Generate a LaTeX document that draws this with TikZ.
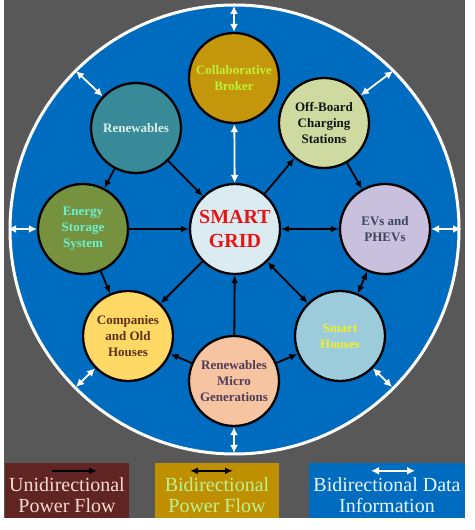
\documentclass[tikz,border=0pt]{standalone}
\usepackage{fontspec}
\setmainfont{Liberation Serif}
\usetikzlibrary{arrows.meta}
\definecolor{bggray}{RGB}{88,88,88}
\definecolor{gridblue}{RGB}{0,108,192}
\definecolor{brokerfill}{RGB}{196,150,12}
\definecolor{brokertext}{RGB}{190,240,60}
\definecolor{renewfill}{RGB}{56,138,152}
\definecolor{renewtext}{RGB}{220,240,235}
\definecolor{offfill}{RGB}{206,218,160}
\definecolor{offtext}{RGB}{20,20,20}
\definecolor{storefill}{RGB}{118,146,62}
\definecolor{storetext}{RGB}{110,240,210}
\definecolor{centrefill}{RGB}{218,236,242}
\definecolor{centretext}{RGB}{230,20,20}
\definecolor{evfill}{RGB}{200,192,220}
\definecolor{evtext}{RGB}{60,70,90}
\definecolor{compfill}{RGB}{255,216,102}
\definecolor{comptext}{RGB}{90,50,20}
\definecolor{microfill}{RGB}{246,196,160}
\definecolor{microtext}{RGB}{80,60,90}
\definecolor{housefill}{RGB}{156,204,220}
\definecolor{housetext}{RGB}{240,240,40}
\definecolor{legred}{RGB}{96,36,34}
\definecolor{legredtext}{RGB}{246,220,200}
\definecolor{leggold}{RGB}{190,144,0}
\definecolor{leggoldtext}{RGB}{190,240,150}
\definecolor{legbluetext}{RGB}{235,245,255}
\tikzset{
  hub/.style={circle,draw=black,line width=2.3pt,minimum size=90pt,inner sep=0pt,
    align=center,font=\bfseries\fontsize{13}{16}\selectfont},
  power/.style={draw=black,line width=1.8pt,-{Latex[length=8pt,width=7pt]}},
  bipower/.style={draw=black,line width=1.8pt,{Latex[length=8pt,width=7pt]}-{Latex[length=8pt,width=7pt]}},
  data/.style={draw=white,line width=1.8pt,{Latex[length=8pt,width=8pt]}-{Latex[length=8pt,width=8pt]}},
  legbox/.style={rectangle,minimum height=55pt,inner sep=0pt},
  legtext/.style={align=center,font=\fontsize{20}{21}\selectfont,inner sep=0pt}
}
\begin{document}
\begin{tikzpicture}[x=1pt,y=1pt]
  \useasboundingbox (0,0) rectangle (474,530);
  \fill[bggray] (4,12) rectangle (465,530);
  \draw[white,line width=3pt,fill=gridblue] (234.5,300.5) circle (224.5pt);
  % nodes
  \node[hub,fill=brokerfill,text=brokertext] (broker) at (234,452) {Collaborative\\Broker};
  \node[hub,fill=renewfill,text=renewtext] (renew) at (136,402) {Renewables};
  \node[hub,fill=offfill,text=offtext] (offboard) at (324,407) {Off-Board\\Charging\\Stations};
  \node[hub,fill=storefill,text=storetext] (storage) at (83,301) {Energy\\Storage\\System};
  \node[hub,fill=centrefill,text=centretext,font=\bfseries\fontsize{20}{24}\selectfont] (grid) at (235,301) {SMART\\GRID};
  \node[hub,fill=evfill,text=evtext] (evs) at (385,301) {EVs and\\PHEVs};
  \node[hub,fill=compfill,text=comptext] (companies) at (128,194) {Companies\\and Old\\Houses};
  \node[hub,fill=microfill,text=microtext] (micro) at (234,149) {Renewables\\Micro\\Generations};
  \node[hub,fill=housefill,text=housetext] (houses) at (340,194) {Smart\\Houses};
  % ends of the data arrows on the rim
  \coordinate (dBroker) at (234,524);
  \coordinate (dRenew) at (76,459);
  \coordinate (dOffboard) at (393,459);
  \coordinate (dStorage) at (8,301);
  \coordinate (dEvs) at (461,301);
  \coordinate (dCompanies) at (76,143);
  \coordinate (dHouses) at (392,143);
  \coordinate (dMicro) at (234,77);
  % power flow
  \draw[power] (renew)--(storage);
  \draw[power] (renew)--(grid);
  \draw[power] (grid)--(offboard);
  \draw[power] (offboard)--(evs);
  \draw[power] (storage)--(grid);
  \draw[power] (storage)--(companies);
  \draw[power] (grid)--(companies);
  \draw[power] (micro)--(grid);
  \draw[power] (micro)--(companies);
  \draw[power] (micro)--(houses);
  \draw[bipower] (grid)--(evs);
  \draw[bipower] (grid)--(houses);
  \draw[bipower] (evs)--(houses);
  % data
  \draw[data] (broker)--(grid);
  \foreach \N/\D in {broker/dBroker,renew/dRenew,offboard/dOffboard,storage/dStorage,evs/dEvs,companies/dCompanies,houses/dHouses,micro/dMicro}
    \draw[data] (\N)--(\D);
  % legend
  \node[legbox,fill=legred,minimum width=124pt] (leg1) at (67,39.5) {};
  \node[legbox,fill=leggold,minimum width=124pt] (leg2) at (217,39.5) {};
  \node[legbox,fill=gridblue,minimum width=156pt] (leg3) at (387,39.5) {};
  \node[legtext,text=legredtext] (txt1) at ([yshift=-5pt]leg1.center) {Unidirectional\\Power Flow};
  \node[legtext,text=leggoldtext] (txt2) at ([yshift=-5pt]leg2.center) {Bidirectional\\Power Flow};
  \node[legtext,text=legbluetext] (txt3) at ([yshift=-5pt]leg3.center) {Bidirectional Data\\Information};
  \draw[power] ([xshift=-15pt,yshift=-8pt]leg1.north)--++(45,0);
  \draw[bipower] ([xshift=-27pt,yshift=-8pt]leg2.north)--++(43,0);
  \draw[data] ([xshift=-16pt,yshift=-8pt]leg3.north)--++(44,0);
\end{tikzpicture}
\end{document}
